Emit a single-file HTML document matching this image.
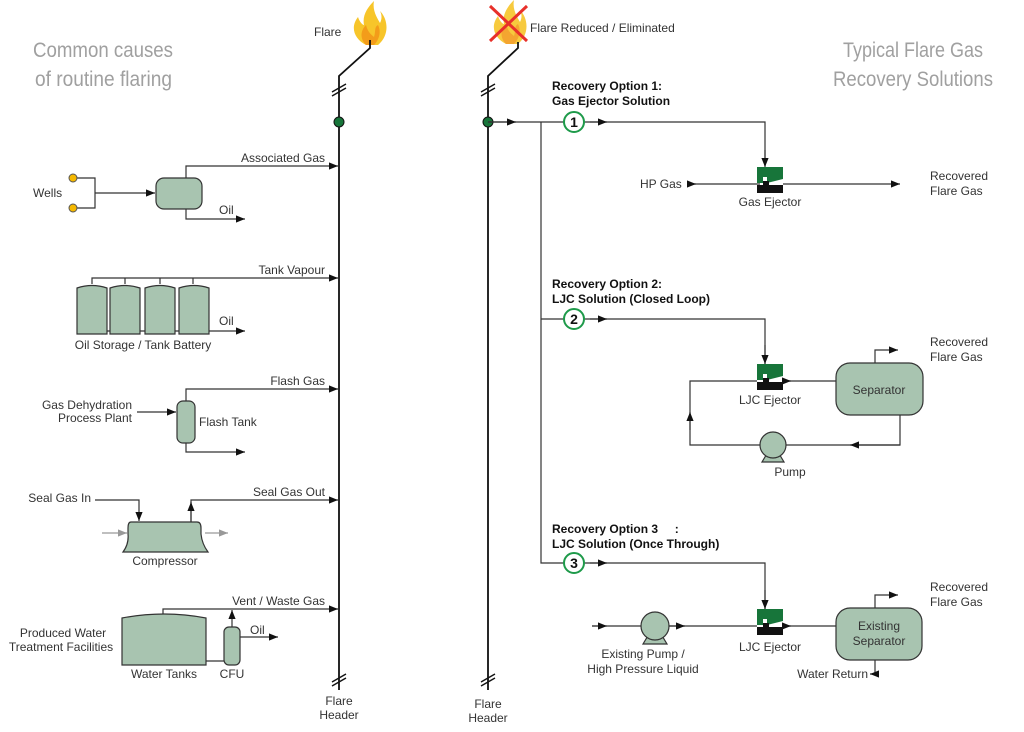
<!DOCTYPE html>
<html><head><meta charset="utf-8"><style>
html,body{margin:0;padding:0;background:#fff;}
svg{display:block;}
text{font-family:"Liberation Sans",sans-serif;font-size:12px;fill:#333;}
.t{font-size:21px;fill:#a0a0a0;font-family:"Liberation Sans Narrow","Liberation Sans",sans-serif;}
.b{font-weight:bold;fill:#111;}
.l{stroke:#333;stroke-width:1.2;fill:none;}
.h{stroke:#111;stroke-width:2.2;fill:none;}
.eq{fill:#a8c4b0;stroke:#333;stroke-width:1.2;}
.c{fill:#fff;stroke:#1e9a4a;stroke-width:2;}
</style></head><body>
<svg width="1024" height="732" viewBox="0 0 1024 732" xmlns="http://www.w3.org/2000/svg">
<defs>
<marker id="a" viewBox="0 0 10 10" refX="10" refY="5" markerWidth="9" markerHeight="9" markerUnits="userSpaceOnUse" orient="auto"><path d="M0,1L10,5L0,9z" fill="#111"/></marker>
<marker id="g" viewBox="0 0 10 10" refX="10" refY="5" markerWidth="9" markerHeight="9" markerUnits="userSpaceOnUse" orient="auto"><path d="M0,1L10,5L0,9z" fill="#999"/></marker>
<g id="ej"><path d="M0,0H26V12L10,16V10H6V16H0z" fill="#17753a"/><rect x="0" y="18" width="26" height="8" fill="#111"/><path d="M6,14H12V18H6z" fill="#111"/></g>
<g id="fl"><path d="M0,40C-12,34-16,22-8,12C-6,18-3,20-2,20C-4,10 2,2 8,-4C6,6 12,14 14,18C16,14 16,10 14,6C22,14 24,30 12,40z" fill="#f7c52a"/><path d="M0,40C-6,34-6,26 0,20C2,28 6,30 8,32C10,26 8,22 12,20C16,28 12,36 8,40z" fill="#f39c1a"/></g>
</defs>

<text class="t" x="33" y="57" textLength="140" lengthAdjust="spacingAndGlyphs">Common causes</text>
<text class="t" x="35" y="86" textLength="137" lengthAdjust="spacingAndGlyphs">of routine flaring</text>
<text class="t" x="843" y="57" textLength="140" lengthAdjust="spacingAndGlyphs">Typical Flare Gas</text>
<text class="t" x="833" y="86" textLength="160" lengthAdjust="spacingAndGlyphs">Recovery Solutions</text>

<!-- left flare -->
<use href="#fl" x="366" y="5"/>
<text x="314" y="36">Flare</text>
<path class="h" d="M370,40V48L339,76V690" style="stroke-width:1.8"/>
<path d="M332,92L346,84M332,96L346,88M332,682L346,674M332,686L346,678" stroke="#111" stroke-width="1.4"/>
<circle cx="339" cy="122" r="5" fill="#17753a" stroke="#111"/>
<text x="339" y="705" text-anchor="middle">Flare</text>
<text x="339" y="719" text-anchor="middle">Header</text>

<!-- right flare -->
<g opacity="0.9"><use href="#fl" x="506" y="4"/></g>
<path d="M490,6L527,41M527,6L490,41" stroke="#e8302a" stroke-width="3"/>
<text x="530" y="32">Flare Reduced / Eliminated</text>
<path class="h" d="M518,42V48L488,76V690" style="stroke-width:1.8"/>
<path d="M481,92L495,84M481,96L495,88M481,682L495,674M481,686L495,678" stroke="#111" stroke-width="1.4"/>
<circle cx="488" cy="122" r="5" fill="#17753a" stroke="#111"/>
<text x="488" y="708" text-anchor="middle">Flare</text>
<text x="488" y="722" text-anchor="middle">Header</text>

<!-- Associated gas -->
<path class="l" d="M186,178V166H338" marker-end="url(#a)"/>
<text x="325" y="162" text-anchor="end">Associated Gas</text>
<rect class="eq" x="156" y="178" width="46" height="31" rx="8"/>
<path class="l" d="M186,209V219H245" marker-end="url(#a)"/>
<text x="219" y="214">Oil</text>
<path class="l" d="M73,178H95V208H73"/>
<path class="l" d="M95,193H155" marker-end="url(#a)"/>
<circle cx="73" cy="178" r="4" fill="#f5b800" stroke="#555"/>
<circle cx="73" cy="208" r="4" fill="#f5b800" stroke="#555"/>
<text x="33" y="197">Wells</text>

<!-- Tank vapour -->
<path class="l" d="M125,278V284M160,278V284M193,278V284"/>
<path class="l" d="M92,284V278H338" marker-end="url(#a)"/>
<text x="325" y="274" text-anchor="end">Tank Vapour</text>
<path class="eq" d="M77,334V288Q92,283 107,288V334z M110,334V288Q125,283 140,288V334z M145,334V288Q160,283 175,288V334z M179,334V288Q194,283 209,288V334z"/>
<path class="l" d="M107,331H110M140,331H145M175,331H179"/>
<path class="l" d="M209,331H245" marker-end="url(#a)"/>
<text x="219" y="325">Oil</text>
<text x="143" y="349" text-anchor="middle">Oil Storage / Tank Battery</text>

<!-- Flash -->
<path class="l" d="M186,401V389H338" marker-end="url(#a)"/>
<text x="325" y="385" text-anchor="end">Flash Gas</text>
<rect class="eq" x="177" y="401" width="18" height="42" rx="6"/>
<path class="l" d="M186,443V452H245" marker-end="url(#a)"/>
<path class="l" d="M137,412H176" marker-end="url(#a)"/>
<text x="132" y="409" text-anchor="end">Gas Dehydration</text>
<text x="132" y="422" text-anchor="end">Process Plant</text>
<text x="199" y="426">Flash Tank</text>

<!-- Compressor -->
<path class="l" d="M95,500H139V521" marker-end="url(#a)"/>
<text x="91" y="502" text-anchor="end">Seal Gas In</text>
<path class="l" d="M191,522V500H338" marker-end="url(#a)"/>
<path class="l" d="M191,522V502" marker-end="url(#a)"/>
<text x="325" y="496" text-anchor="end">Seal Gas Out</text>
<path class="eq" d="M131,522H197Q201,522 201,528V534Q202,544 208,552H123Q129,544 128,534V528Q128,522 131,522z"/>
<path d="M102,533H127" stroke="#999" stroke-width="1.2" marker-end="url(#g)"/>
<path d="M205,533H228" stroke="#999" stroke-width="1.2" marker-end="url(#g)"/>
<text x="165" y="565" text-anchor="middle">Compressor</text>

<!-- Water -->
<path class="l" d="M163,615V609H338" marker-end="url(#a)"/>
<text x="325" y="605" text-anchor="end">Vent / Waste Gas</text>
<path class="eq" d="M122,665V618Q164,610 206,618V665z"/>
<rect class="eq" x="224" y="627" width="16" height="38" rx="5"/>
<path class="l" d="M206,661H224"/>
<path class="l" d="M232,627V610" marker-end="url(#a)"/>
<path class="l" d="M240,637H278" marker-end="url(#a)"/>
<text x="250" y="634">Oil</text>
<text x="63" y="637" text-anchor="middle">Produced Water</text>
<text x="61" y="651" text-anchor="middle">Treatment Facilities</text>
<text x="164" y="678" text-anchor="middle">Water Tanks</text>
<text x="232" y="678" text-anchor="middle">CFU</text>

<!-- Option 1 -->
<path class="l" d="M488,122H765V166"/>
<path class="l" d="M488,122H516" marker-end="url(#a)"/>
<path class="l" d="M590,122H607" marker-end="url(#a)"/>
<path class="l" d="M765,150V167" marker-end="url(#a)"/>
<path class="l" d="M541,122V563H565M541,319H565"/>
<circle class="c" cx="574" cy="122" r="10"/><text x="574" y="127" text-anchor="middle" class="b" style="font-size:14px">1</text>
<text class="b" x="552" y="90">Recovery Option 1:</text>
<text class="b" x="552" y="105">Gas Ejector Solution</text>
<use href="#ej" x="757" y="167"/>
<path class="l" d="M688,184H760"/><path class="l" d="M688,184H696" marker-end="url(#a)"/>
<text x="640" y="188">HP Gas</text>
<path class="l" d="M783,184H900" marker-end="url(#a)"/>
<text x="930" y="180">Recovered</text><text x="930" y="195">Flare Gas</text>
<text x="770" y="206" text-anchor="middle">Gas Ejector</text>

<!-- Option 2 -->
<path class="l" d="M584,319H765V364"/>
<path class="l" d="M590,319H607" marker-end="url(#a)"/>
<path class="l" d="M765,345V364" marker-end="url(#a)"/>
<circle class="c" cx="574" cy="319" r="10"/><text x="574" y="324" text-anchor="middle" class="b" style="font-size:14px">2</text>
<text class="b" x="552" y="288">Recovery Option 2:</text>
<text class="b" x="552" y="303">LJC Solution (Closed Loop)</text>
<use href="#ej" x="757" y="364"/>
<path class="l" d="M783,381H836"/><path class="l" d="M783,381H791" marker-end="url(#a)"/>
<rect class="eq" x="836" y="363" width="87" height="52" rx="14"/>
<text x="879" y="394" text-anchor="middle">Separator</text>
<path class="l" d="M875,363V350H898" marker-end="url(#a)"/>
<text x="930" y="346">Recovered</text><text x="930" y="361">Flare Gas</text>
<path class="l" d="M900,415V445H690V381H757"/>
<path class="l" d="M900,445H850" marker-end="url(#a)"/>
<path class="l" d="M690,430V412" marker-end="url(#a)"/>
<path class="eq" d="M762,462L768,452H778L784,462z"/>
<circle class="eq" cx="773" cy="445" r="13"/>
<text x="790" y="476" text-anchor="middle">Pump</text>
<text x="770" y="404" text-anchor="middle">LJC Ejector</text>

<!-- Option 3 -->
<path class="l" d="M584,563H765V609"/>
<path class="l" d="M590,563H607" marker-end="url(#a)"/>
<path class="l" d="M765,590V609" marker-end="url(#a)"/>
<circle class="c" cx="574" cy="563" r="10"/><text x="574" y="568" text-anchor="middle" class="b" style="font-size:14px">3</text>
<text class="b" x="552" y="533">Recovery Option 3&#160;&#160;&#160;&#160; :</text>
<text class="b" x="552" y="548">LJC Solution (Once Through)</text>
<use href="#ej" x="757" y="609"/>
<path class="l" d="M592,626H757"/>
<path class="l" d="M592,626H607" marker-end="url(#a)"/>
<path class="l" d="M660,626H685" marker-end="url(#a)"/>
<path class="l" d="M783,626H836"/><path class="l" d="M783,626H791" marker-end="url(#a)"/>
<path class="eq" d="M643,644L649,634H661L667,644z"/>
<circle class="eq" cx="655" cy="626" r="14"/>
<text x="643" y="658" text-anchor="middle">Existing Pump /</text>
<text x="643" y="673" text-anchor="middle">High Pressure Liquid</text>
<text x="770" y="651" text-anchor="middle">LJC Ejector</text>
<rect class="eq" x="836" y="608" width="86" height="52" rx="14"/>
<text x="879" y="630" text-anchor="middle">Existing</text>
<text x="879" y="645" text-anchor="middle">Separator</text>
<path class="l" d="M875,608V595H898" marker-end="url(#a)"/>
<text x="930" y="591">Recovered</text><text x="930" y="606">Flare Gas</text>
<path class="l" d="M875,660V674H870" marker-end="url(#a)"/>
<text x="868" y="678" text-anchor="end">Water Return</text>
</svg>
</body></html>
